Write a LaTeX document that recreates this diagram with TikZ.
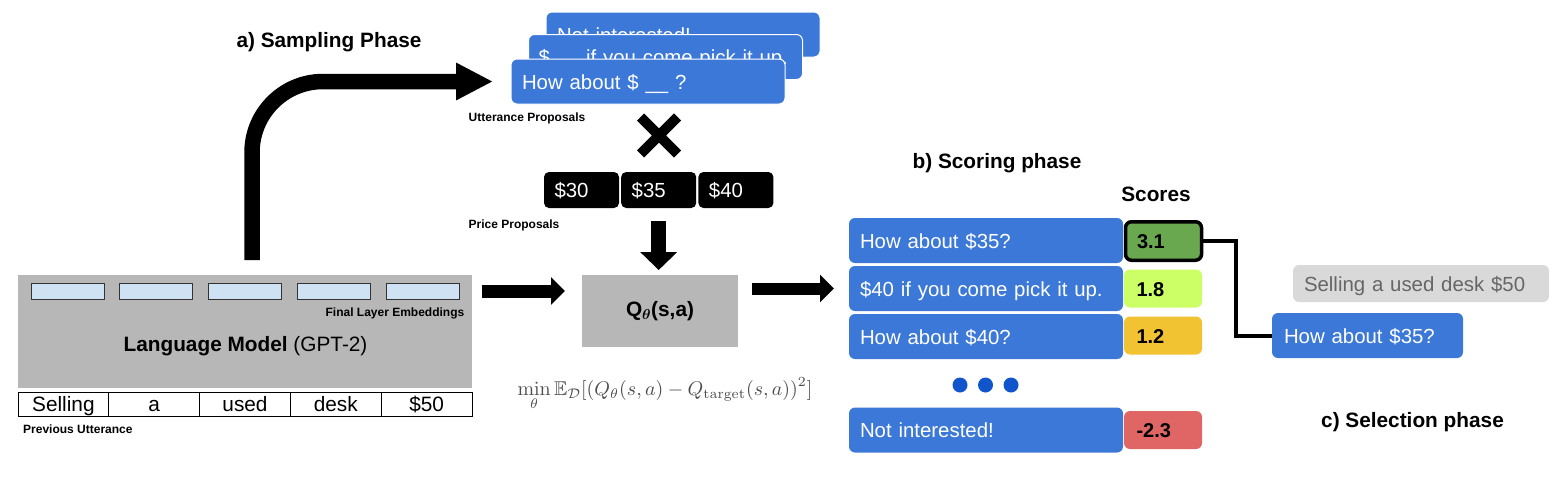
\documentclass[tikz,border=0pt]{standalone}
\usepackage{amsmath,amssymb}
\usepackage[no-math]{fontspec}
\setmainfont{Liberation Sans}
\usetikzlibrary{arrows.meta,shapes.misc}
\definecolor{cardblue}{HTML}{3C78D8}
\definecolor{dotblue}{HTML}{1155CC}
\definecolor{boxgray}{HTML}{B7B7B7}
\definecolor{embblue}{HTML}{CFE2F3}
\definecolor{selgray}{HTML}{D9D9D9}
\definecolor{seltext}{HTML}{666666}
\definecolor{scgreen}{HTML}{6AA84F}
\definecolor{sclime}{HTML}{CCFF66}
\definecolor{scyellow}{HTML}{F1C232}
\definecolor{scred}{HTML}{E06666}
\newcommand{\mainsize}{\fontsize{20.8}{25}\selectfont}
\newcommand{\cardsize}{\fontsize{20.4}{25}\selectfont}
\newcommand{\scoresize}{\fontsize{20}{24}\selectfont}
\newcommand{\tagsize}{\fontsize{12}{14}\selectfont}

\begin{document}
\begin{tikzpicture}[x=1pt,y=-1pt,node distance={48pt}]
	\tikzstyle{txt}=[font=\cardsize, outer sep=0pt, text height=16pt, text depth=0.5pt]
	\tikzstyle{card}=[txt, rectangle, rounded corners=6pt, fill=cardblue, text=white, minimum height=45pt, inner xsep=11pt, align=left]
	\tikzstyle{stack}=[card, draw=white, line width=1pt, text width=252pt]
	\tikzstyle{row}=[card, text width=252pt]
	\tikzstyle{score}=[txt, rectangle, rounded corners=6pt, minimum height=38pt, inner xsep=12.5pt, text width=53pt, align=left, font=\scoresize\bfseries]
	\tikzstyle{price}=[txt, rectangle, rounded corners=5pt, fill=black, text=white, minimum height=36pt, inner xsep=10.5pt, text width=54pt, align=left]
	\tikzstyle{emb}=[rectangle, draw=black!80, fill=embblue, line width=0.8pt, minimum width=73pt, minimum height=16pt, inner sep=0pt]
	\tikzstyle{word}=[txt, font=\mainsize, rectangle, draw=black, line width=1pt, minimum width=90.8pt, minimum height=24pt, inner sep=0pt]
	\tikzstyle{gbox}=[rectangle, fill=boxgray, inner sep=0pt, outer sep=0pt]
	\tikzstyle{head}=[font=\mainsize\bfseries, anchor=base, inner sep=0pt]
	\tikzstyle{small}=[font=\tagsize\bfseries, inner sep=0pt]
	\tikzstyle{dot}=[circle, fill=dotblue, minimum size=15pt, inner sep=0pt]

	\useasboundingbox (0,0) rectangle (1565,485);

	% language model
	\node[gbox, minimum width=454pt, minimum height=113pt] (lm) at (245,331.5) {};
	\node[font=\mainsize, anchor=base, inner sep=0pt] (lmname) at (245.5,351.7) {\textbf{Language Model} (GPT-2)};
	\node[emb] (e1) at (67.5,291) {};
	\node[emb] (e2) [right of=e1, node distance=88.75pt] {};
	\node[emb] (e3) [right of=e2, node distance=88.75pt] {};
	\node[emb] (e4) [right of=e3, node distance=88.75pt] {};
	\node[emb] (e5) [right of=e4, node distance=88.75pt] {};
	\node[small, anchor=base east] (emblabel) at (464.5,316) {Final Layer Embeddings};
	\node[word] (w1) at (63.4,404) {Selling};
	\node[word] (w2) [right of=w1, node distance=90.8pt] {a};
	\node[word] (w3) [right of=w2, node distance=90.8pt] {used};
	\node[word] (w4) [right of=w3, node distance=90.8pt] {desk};
	\node[word] (w5) [right of=w4, node distance=90.8pt] {\$50};
	\node[small, anchor=base west] (prevlabel) at (23,433) {Previous Utterance};

	% sampling
	\node[head] (sampling) at (329,47) {a) Sampling Phase};
	\node[stack] (back) at (683,34.5) {Not interested!};
	\node[stack, inner xsep=10pt, text width=254pt] (mid) at (665.5,57) {\$ \_\_ if you come pick it up.};
	\node[stack] (front) at (648,81.5) {How about \$ \_\_ ?};
	\node[small, anchor=base west] (uttlabel) at (468.5,121.7) {Utterance Proposals};
	\node[cross out, draw=black, line width=10pt, minimum size=27pt, inner sep=0pt] (times) at (659,135.5) {};
	\node[price] (p1) at (581.5,190) {\$30};
	\node[price] (p2) [right of=p1, node distance=77.2pt] {\$35};
	\node[price] (p3) [right of=p2, node distance=77.2pt] {\$40};
	\node[small, anchor=base west] (pricelabel) at (468.5,228) {Price Proposals};

	% q function
	\node[gbox, font=\mainsize\bfseries, minimum width=156pt, minimum height=72pt] (q) at (660,311) {Q$_{\boldsymbol\theta}$(s,a)};
	\node[scale=1.99, text=black!70, inner sep=0pt] (loss) at (665,394) {$\displaystyle\min_\theta \mathbb{E}_{\mathcal{D}}[(Q_\theta(s,a)-Q_{\mathrm{target}}(s,a))^2]$};

	% scoring
	\node[head] (scoring) at (997,168) {b) Scoring phase};
	\node[head] (scores) at (1156,201.7) {Scores};
	\node[row] (r1) at (986,240.5) {How about \$35?};
	\node[row] (r2) [below of=r1] {\$40 if you come pick it up.};
	\node[row] (r3) [below of=r2] {How about \$40?};
	\node[row] (r4) at (986,430) {Not interested!};
	\node[score, fill=scgreen, draw=black, line width=3.5pt, minimum height=38.5pt, inner xsep=11.5pt, text width=53pt] (s1) at (1163.5,241) {3.1};
	\node[score, fill=sclime] (s2) at (1163,288.5) {1.8};
	\node[score, fill=scyellow] (s3) at (1163,335.5) {1.2};
	\node[score, fill=scred] (s4) at (1163,430) {-2.3};
	\node[dot] (d1) at (960,385) {};
	\node[dot] (d2) [right of=d1, node distance=25.5pt] {};
	\node[dot] (d3) [right of=d2, node distance=25.5pt] {};

	% selection
	\node[card, fill=selgray, text=seltext, minimum height=37pt, text width=234pt] (prev) at (1421,283.5) {Selling a used desk \$50};
	\node[card, minimum width=191pt, inner xsep=12pt, text width=167pt] (sel) at (1367.5,335.5) {How about \$35?};
	\node[head] (selection) at (1412.5,427) {c) Selection phase};
	\coordinate (turn) at (1236,241);

	% arrows
	\draw[line width=15.5pt, rounded corners=71pt, shorten <=15pt, shorten >=18pt, -{Triangle[length=37pt,width=35pt]}] ([xshift=7pt]lm.north) |- (front.west);
	\draw[line width=15pt, shorten <=13pt, shorten >=5pt, -{Triangle[length=18pt,width=36pt]}] (p2.south) -- (p2.south |- q.north);
	\draw[line width=13pt, shorten <=10pt, shorten >=17pt, -{Triangle[length=14pt,width=27pt]}] ([yshift=40.5pt]lm.east) -- ([yshift=20pt]q.west);
	\draw[line width=12pt, shorten <=14pt, shorten >=15pt, -{Triangle[length=14pt,width=27pt]}] (q.east |- r2.west) -- (r2.west);
	\draw[line width=4pt] (s1.east) -- (turn) -- (turn |- sel.west) -- (sel.west);
\end{tikzpicture}
\end{document}
